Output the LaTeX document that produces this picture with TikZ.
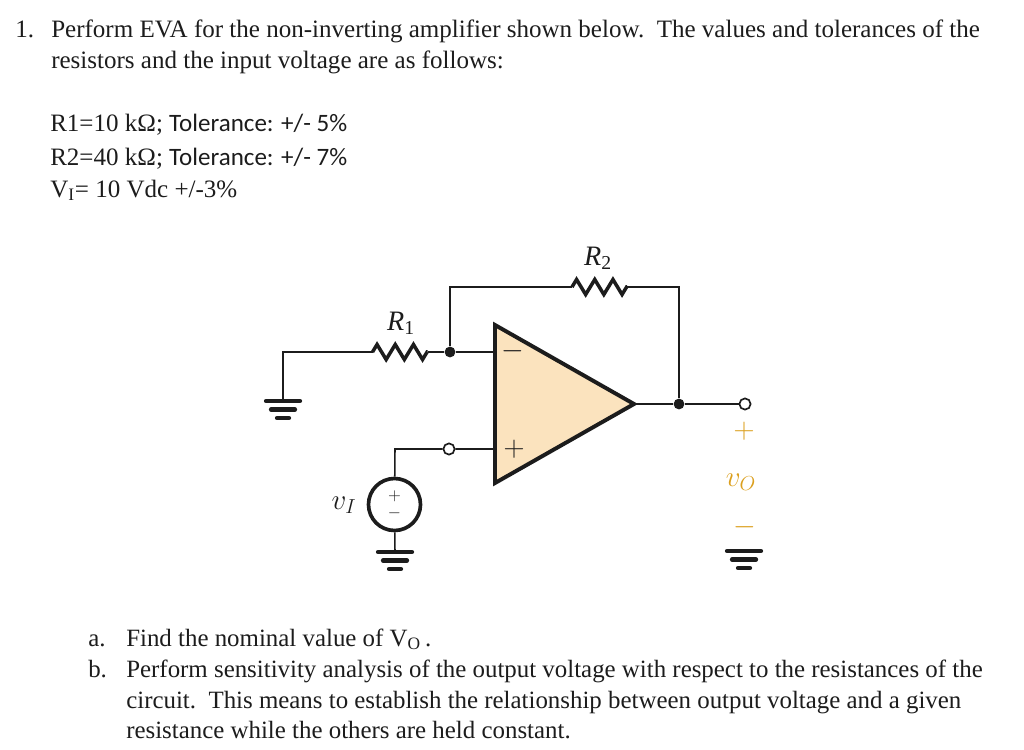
\documentclass[tikz,border=0pt]{standalone}
\usepackage{fontspec}
\setmainfont{Liberation Serif}
\newfontfamily\calibrifont{Carlito}
\usetikzlibrary{decorations.pathmorphing}

\definecolor{ampFill}{HTML}{FBE3BE}
\definecolor{voltOrange}{HTML}{DB9F1E}
\definecolor{inkBlack}{HTML}{1C1C1C}

\tikzstyle{line}=[anchor=base west,inner sep=0pt,font=\fontsize{17.8}{21}\selectfont,text=inkBlack]
\tikzstyle{lineLow}=[line,font=\fontsize{17.7}{21}\selectfont]
\tikzstyle{label}=[inner sep=0pt,font=\fontsize{20}{22}\selectfont,text=inkBlack]
\tikzstyle{sign}=[inner sep=0pt,font=\fontsize{22}{24}\selectfont,text=inkBlack]
\tikzstyle{wire}=[line width=1.1pt,draw=inkBlack]
\tikzstyle{barThick}=[line width=3pt,draw=inkBlack,line cap=round]
\tikzstyle{resistor}=[line width=2.5pt,draw=inkBlack,decorate,decoration={zigzag,segment length=18.2*0.025cm,amplitude=7.5*0.025cm}]
\tikzstyle{dot}=[circle,inner sep=0pt,minimum size=0.27cm,fill=inkBlack]
\tikzstyle{open}=[circle,inner sep=0pt,minimum size=0.28cm,fill=white,draw=inkBlack,line width=1.2pt]

\newcommand{\groundAt}[3]{
	\coordinate (#3) at (#1,#2);
	\draw[barThick] (#1-17,#2) -- (#1+17,#2);
	\draw[barThick] (#1-12,#2+8.5) -- (#1+12,#2+8.5);
	\draw[barThick] (#1-6,#2+17) -- (#1+6,#2+17);
}

\begin{document}
\begin{tikzpicture}[x=0.025cm, y=-0.025cm]
	\useasboundingbox (0,0) rectangle (1024,749);

	% Aufgabe
	\node(num) at (15,38) [line] {1.};
	\node(intro1) at (51,38) [line] {Perform EVA for the non-inverting amplifier shown below.\ \ The values and tolerances of the};
	\node(intro2) at (51,68.5) [line] {resistors and the input voltage are as follows:};
	\node(valR1) at (50,131) [line] {R1=10 kΩ; {\calibrifont Tolerance: +/- 5\%}};
	\node(valR2) at (50,165.5) [line] {R2=40 kΩ; {\calibrifont Tolerance: +/- 7\%}};
	\node(valV) at (50,197) [line] {V\textsubscript{I}= 10 Vdc +/-3\%};
	\node(qa) at (88,646) [lineLow] {a.};
	\node(qa1) at (126,646) [lineLow] {Find the nominal value of V\textsubscript{O}\,.};
	\node(qb) at (88,677) [lineLow] {b.};
	\node(qb1) at (126,677) [lineLow] {Perform sensitivity analysis of the output voltage with respect to the resistances of the};
	\node(qb2) at (126,708) [lineLow] {circuit.\ \ This means to establish the relationship between output voltage and a given};
	\node(qb3) at (126,738) [lineLow] {resistance while the others are held constant.};

	% Operationsverstaerker
	\coordinate (ampTop) at (495,325);
	\coordinate (ampBot) at (495,483);
	\coordinate (ampOut) at (634,404);
	\coordinate (ampMinus) at (495,352);
	\coordinate (ampPlus) at (495,449);
	\draw[line width=2.8pt, draw=inkBlack, fill=ampFill, line join=miter] (ampTop) -- (ampOut) -- (ampBot) -- cycle;
	\node(minus) at (513,351) [sign] {$-$};
	\node(plus) at (514,449) [sign] {$+$};

	% Knoten
	\node(nodeA) at (450,352) [dot] {};
	\node(nodeO) at (679,404) [dot] {};
	\node(termO) at (745,404) [open] {};
	\node(termI) at (449,449) [open] {};
	\node(source) at (394.5,504.5) [circle,inner sep=0pt,minimum size=1.3cm,draw=inkBlack,line width=2.6pt,align=center,text=inkBlack,font=\fontsize{12.5}{12.1}\selectfont] {$+$\\$-$};

	\coordinate (R1a) at (372.5,352);
	\coordinate (R1b) at (427.5,352);
	\coordinate (R2a) at (572,287);
	\coordinate (R2b) at (627,287);
	\coordinate (cornerG) at (283,352);
	\coordinate (cornerA) at (450,287);
	\coordinate (cornerO) at (679,287);
	\coordinate (cornerI) at (395,449);

	% Masse
	\groundAt{283}{401}{gndL}
	\groundAt{395}{552}{gndS}
	\groundAt{744}{551}{gndO}

	% Leitungen
	\draw[wire] (gndL) -- (cornerG) -- (R1a);
	\draw[wire] (R1b) -- (nodeA) -- (ampMinus);
	\draw[wire] (nodeA) -- (cornerA) -- (R2a);
	\draw[wire] (R2b) -- (cornerO) -- (nodeO);
	\draw[wire] (ampOut) -- (nodeO) -- (termO);
	\draw[wire] (source) -- (cornerI) -- (termI) -- (ampPlus);
	\draw[wire] (source) -- (gndS);
	\draw[resistor] (R1a) -- (R1b);
	\draw[resistor] (R2a) -- (R2b);

	% Beschriftung
	\node(labelR1) at (401,323) [label] {\textit{R}\textsubscript{1}};
	\node(labelR2) at (598,258) [label] {\textit{R}\textsubscript{2}};
	\node(labelVI) at (344,505) [sign] {$v_I$};
	\node(labelPlus) at (744,431) [sign,text=voltOrange] {$+$};
	\node(labelVO) at (741,482) [sign,text=voltOrange] {$v_O$};
	\node(labelMinus) at (745,527) [sign,text=voltOrange] {$-$};

\end{tikzpicture}
\end{document}
